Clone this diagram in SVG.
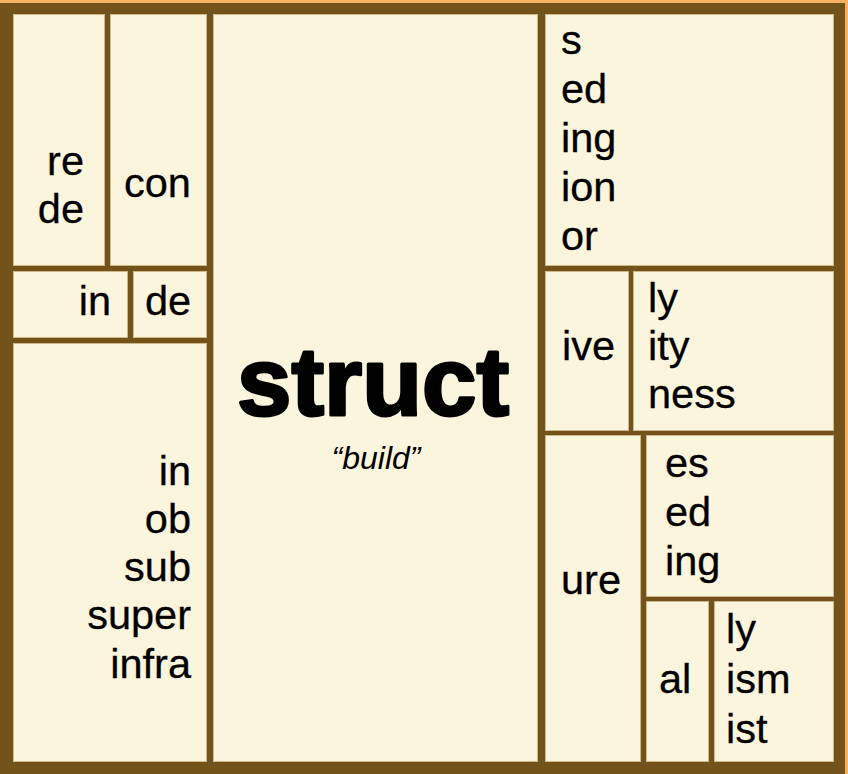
<svg xmlns="http://www.w3.org/2000/svg" width="848" height="774" viewBox="0 0 848 774">
<style>
.cell{fill:#fcf5dd;stroke:#cdb98c;stroke-width:1}
.t{font-family:"Liberation Sans",Arial,sans-serif;font-size:41.5px;fill:#000;stroke:#000;stroke-width:0.3}
.r{text-anchor:end}
.root{font-family:"Liberation Sans",Arial,sans-serif;font-weight:bold;font-size:96px;fill:#000;stroke:#000;stroke-width:3;stroke-linejoin:round;text-anchor:middle}
.gloss{font-family:"Liberation Sans",Arial,sans-serif;font-style:italic;font-size:32px;fill:#000;text-anchor:middle}
</style>
<rect x="0" y="0" width="848" height="774" fill="#f8b060"/>
<rect x="0" y="3" width="845" height="771" fill="#74531a"/>
<g id="prefix-re-de"><rect class="cell" x="13.5" y="14.5" width="91" height="251"/><text class="t r" x="84" y="175">re</text><text class="t r" x="84" y="223">de</text></g>
<g id="prefix-con"><rect class="cell" x="110.5" y="14.5" width="96" height="251"/><text class="t" x="124" y="197">con</text></g>
<g id="prefix-in"><rect class="cell" x="13.5" y="271.5" width="114" height="66"/><text class="t r" x="111" y="315">in</text></g>
<g id="prefix-de"><rect class="cell" x="133.5" y="271.5" width="73" height="66"/><text class="t" x="145" y="315">de</text></g>
<g id="prefixes-list"><rect class="cell" x="13.5" y="343.5" width="193" height="418"/>
<text class="t r" x="191" y="485">in</text><text class="t r" x="191" y="533">ob</text><text class="t r" x="191" y="581">sub</text><text class="t r" x="191" y="629">super</text><text class="t r" x="191" y="678">infra</text></g>
<g id="root"><rect class="cell" x="213.5" y="14.5" width="324" height="747"/>
<text class="root" x="373" y="415" textLength="272" lengthAdjust="spacingAndGlyphs">struct</text>
<text class="gloss" x="376" y="469">“build”</text></g>
<g id="suffixes-top"><rect class="cell" x="545.5" y="14.5" width="288" height="251"/>
<text class="t" x="561" y="54">s</text><text class="t" x="561" y="103">ed</text><text class="t" x="561" y="152">ing</text><text class="t" x="561" y="201">ion</text><text class="t" x="561" y="250">or</text></g>
<g id="suffix-ive"><rect class="cell" x="545.5" y="271.5" width="83" height="159"/><text class="t" x="562" y="360">ive</text></g>
<g id="suffix-ive-more"><rect class="cell" x="633.5" y="271.5" width="200" height="159"/>
<text class="t" x="648" y="312">ly</text><text class="t" x="648" y="360">ity</text><text class="t" x="648" y="408">ness</text></g>
<g id="suffix-ure"><rect class="cell" x="545.5" y="435.5" width="95" height="326"/><text class="t" x="561" y="594">ure</text></g>
<g id="suffix-ure-more"><rect class="cell" x="646.5" y="435.5" width="187" height="161"/>
<text class="t" x="665" y="477">es</text><text class="t" x="665" y="526">ed</text><text class="t" x="665" y="575">ing</text></g>
<g id="suffix-al"><rect class="cell" x="646.5" y="601.5" width="62" height="160"/><text class="t" x="659" y="693">al</text></g>
<g id="suffix-al-more"><rect class="cell" x="714.5" y="601.5" width="119" height="160"/>
<text class="t" x="726" y="643">ly</text><text class="t" x="726" y="693">ism</text><text class="t" x="726" y="743">ist</text></g>
<g id="connectors"></g>
</svg>
